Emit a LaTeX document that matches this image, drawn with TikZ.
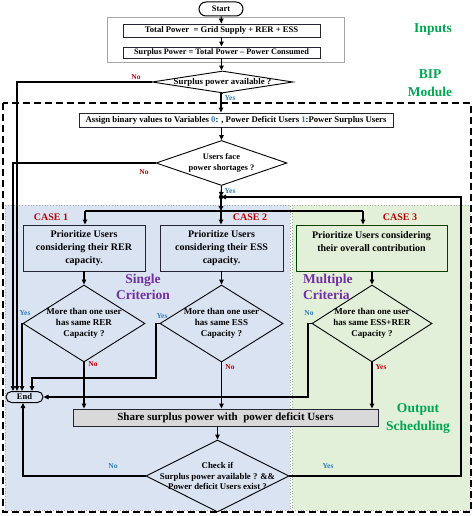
\documentclass[tikz,border=0pt]{standalone}
\usepackage{fontspec}
\setmainfont{Liberation Serif}
\usetikzlibrary{shapes.geometric,arrows.meta,calc}
\definecolor{cblue}{RGB}{218,227,242}
\definecolor{cgreen}{RGB}{226,239,217}
\definecolor{cred}{RGB}{192,0,0}
\definecolor{cyes}{RGB}{46,125,190}
\definecolor{cpurple}{RGB}{112,48,160}
\definecolor{cgrn}{RGB}{0,166,81}
\definecolor{cshare}{RGB}{217,217,217}
\definecolor{cedge}{RGB}{35,38,50}
\tikzset{
  box/.style={draw=cedge, line width=0.9pt, rectangle, inner sep=0pt, align=center, font=\fontsize{10}{13}\selectfont\bfseries},
  sbox/.style={draw=cedge, line width=0.9pt, rectangle, inner sep=0pt, align=center, font=\fontsize{8.3}{10}\selectfont\bfseries},
  dia/.style={draw=black, line width=0.9pt, diamond, inner sep=0pt},
  dtext/.style={align=center, font=\fontsize{9}{11}\selectfont\bfseries, inner sep=0pt},
  pill/.style={draw=black, line width=1pt, rectangle, inner sep=0pt, font=\fontsize{8.5}{10}\selectfont\bfseries},
  conn/.style={line width=1.1pt, -{Triangle[length=5pt,width=4.5pt]}},
  plain/.style={line width=1.1pt},
  yeslab/.style={text=cyes, font=\fontsize{7.5}{8}\selectfont\bfseries, inner sep=0pt},
  nolab/.style={text=cred, font=\fontsize{7.5}{8}\selectfont\bfseries, inner sep=0pt},
  caselab/.style={text=cred, font=\fontsize{10}{12}\selectfont\bfseries, inner sep=0pt},
  critlab/.style={text=cpurple, font=\fontsize{13.5}{16}\selectfont\bfseries, inner sep=0pt, align=left},
  seclab/.style={text=cgrn, font=\fontsize{13.5}{18}\selectfont\bfseries, inner sep=0pt, align=center},
}
\begin{document}
\begin{tikzpicture}[x=1pt,y=-1pt]
\useasboundingbox (0,0) rectangle (474,516);
% regions
\fill[cblue] (5,205) rectangle (290,510);
\fill[cgreen] (292,205) rectangle (470,510);
\draw[gray!70, dotted, line width=0.8pt] (5,205) rectangle (290,510);
\draw[gray!70, dotted, line width=0.8pt] (292,205) rectangle (470,510);
\draw[black, line width=1.5pt, dash pattern=on 7pt off 4pt] (3,103) rectangle (471,512);
% inputs frame
\node[draw=gray!70, line width=1pt, fill=white, minimum width=237pt, minimum height=45pt, inner sep=0pt] (inputs) at (225.5,40.5) {};
% nodes
\node[pill, rounded corners=7pt, minimum width=44pt, minimum height=14pt] (start) at (221,9) {Start};
\node[sbox, font=\fontsize{8.6}{10}\selectfont\bfseries, minimum width=197pt, minimum height=13pt] (tp) at (221.5,30.5) {Total Power\ \ = Grid Supply + RER + ESS};
\node[sbox, minimum width=197pt, minimum height=11pt] (sp) at (221.5,52.5) {Surplus Power = Total Power -- Power Consumed};
\node[dia, minimum width=141pt, minimum height=22pt] (d0) at (222.5,82) {};
\node[dtext, font=\fontsize{8.8}{11}\selectfont\bfseries] at (d0) {Surplus power available ?};
\node[sbox, font=\fontsize{8.7}{10}\selectfont\bfseries, minimum width=314pt, minimum height=14pt] (assign) at (236,120) {Assign binary values to Variables {\color{cyes}0}: , Power Deficit Users {\color{cyes}1}:Power Surplus Users};
\node[dia, minimum width=131pt, minimum height=45pt] (d1) at (221.5,163) {};
\node[dtext, font=\fontsize{8.5}{11}\selectfont\bfseries] at (d1) {Users face\\power shortages ?};
\fill (221,197) circle (2.2pt) coordinate (dot);
\coordinate (dist) at (221,211);
\node[box, minimum width=122pt, minimum height=46pt] (b1) at (84,248) {Prioritize Users\\considering their RER\\capacity.};
\node[box, minimum width=123pt, minimum height=46pt] (b2) at (221.5,248) {Prioritize Users\\considering their ESS\\capacity.};
\node[box, draw=black!75!green, minimum width=151pt, minimum height=46pt] (b3) at (371.5,248) {Prioritize Users considering\\their overall contribution\\\mbox{}};
\node[dia, minimum width=122pt, minimum height=77pt] (dd1) at (84,323.5) {};
\node[dtext] at (dd1) {More than one user\\has same RER\\Capacity ?};
\node[dia, minimum width=123pt, minimum height=77pt] (dd2) at (221.5,323.5) {};
\node[dtext] at (dd2) {More than one user\\has same ESS\\Capacity ?};
\node[dia, minimum width=120pt, minimum height=77pt] (dd3) at (372,323.5) {};
\node[dtext] at (dd3) {More than one user\\has same ESS+RER\\Capacity ?};
\node[box, font=\fontsize{11}{13}\selectfont\bfseries, fill=cshare, minimum width=305pt, minimum height=17pt] (share) at (225.5,417.5) {Share surplus power with\ \ power deficit Users};
\node[dia, minimum width=143pt, minimum height=72pt] (dd4) at (217.5,476) {};
\node[dtext, font=\fontsize{8.8}{10.5}\selectfont\bfseries] at (dd4) {Check if\\Surplus power available ? \&\&\\Power deficit Users exist ?};
\node[pill, rounded corners=5.5pt, minimum width=37pt, minimum height=11pt] (end) at (24.5,397) {End};
% labels
\node[seclab] at (433,30) {Inputs};
\node[seclab] at (430,83) {BIP\\Module};
\node[seclab] at (418,418.5) {Output\\Scheduling};
\node[caselab] at (51,217) {CASE 1};
\node[caselab] at (250,217) {CASE 2};
\node[caselab] at (400,217) {CASE 3};
\node[critlab, align=center] at (143,287) {Single\\Criterion};
\node[critlab, anchor=west] at (303,287) {Multiple\\Criteria};
% connectors
\draw[conn] (start) -- (tp);
\draw[conn] (tp) -- (sp);
\draw[conn] (sp.south) -- (sp.south |- d0.north);
\draw[conn] (d0.south) -- (d0.south -| 221,0) -- (221,0 |- assign.north);
\draw[conn] (d0.west) -- (17,82) -- (17,0 |- end.north);
\draw[conn] (assign.south -| d1.north) -- (d1.north);
\draw[conn] (d1.west) -- (13,163) -- (13,0 |- end.north);
\draw[conn] (d1.south) -- (dot);
\draw[conn] (dot) -- (dist);
\draw[plain] (85,211) -- (363,211);
\draw[conn] (85,211) -- (85,0 |- b1.north);
\draw[conn] (dist) -- (b2.north -| dist);
\draw[conn] (363,211) -- (363,0 |- b3.north);
\draw[conn] (b1) -- (dd1);
\draw[conn] (b2) -- (dd2);
\draw[conn] (b3.south -| dd3.north) -- (dd3.north);
\draw[conn] (dd1.west) -- (22,0 |- dd1.west) -- (22,0 |- end.north);
\draw[conn] (dd2.west) -- (156,0 |- dd2.west) -- (156,378) -- (32,378) -- (32,0 |- end.north);
\draw[conn] (dd3.west) -- (308,0 |- dd3.west) -- (308,397) -- (end.east);
\draw[conn] (dd1.south) -- (dd1.south |- share.north);
\draw[conn] (dd2.south) -- (dd2.south |- share.north);
\draw[conn] (dd3.south) -- (dd3.south |- share.north);
\draw[conn] (share.south -| dd4.north) -- (dd4.north);
\draw[conn] (dd4.west) -- (23,0 |- dd4.west) -- (23,0 |- end.south);
\draw[conn] (dd4.east) -- (461,0 |- dd4.east) -- (461,197) -- (dot);
% yes/no labels
\node[nolab] at (136,77) {No};
\node[yeslab] at (230,98) {Yes};
\node[nolab] at (144,172) {No};
\node[yeslab] at (230,191) {Yes};
\node[yeslab] at (25,313) {Yes};
\node[yeslab] at (162,316) {Yes};
\node[yeslab] at (309,313) {No};
\node[nolab] at (93,364) {No};
\node[nolab] at (230,367) {No};
\node[nolab] at (381,367) {Yes};
\node[yeslab] at (113,466) {No};
\node[yeslab] at (328,466) {Yes};
\end{tikzpicture}
\end{document}
